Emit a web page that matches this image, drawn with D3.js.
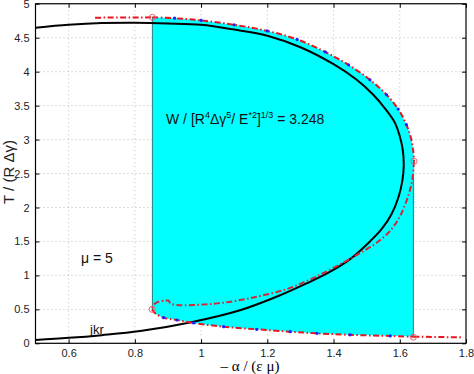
<!DOCTYPE html>
<html>
<head>
<meta charset="utf-8">
<script src="https://cdn.jsdelivr.net/npm/d3@7"></script>
<style>
  body { margin: 0; background: #fff; }
  svg text { font-family: "Liberation Sans", Arial, sans-serif; }
</style>
</head>
<body>
<div id="chart"></div>
<script>
// tick values
var xTicks = [0.6, 0.8, 1, 1.2, 1.4, 1.6, 1.8];
var yTicks = [0, 0.5, 1, 1.5, 2, 2.5, 3, 3.5, 4, 4.5, 5];

// jkr curve (black), traced from top-left round to bottom-left
var jkrX = [0.5, 0.6, 0.7, 0.8, 0.9, 1.0, 1.1, 1.2, 1.3, 1.4, 1.47, 1.52, 1.555, 1.585, 1.6, 1.609, 1.612, 1.608, 1.596, 1.575, 1.545, 1.51, 1.45, 1.39, 1.32, 1.24, 1.12, 0.97, 0.816, 0.7, 0.6, 0.5];
var jkrY = [4.648, 4.69, 4.715, 4.72, 4.71, 4.69, 4.62, 4.53, 4.36, 4.11, 3.88, 3.66, 3.46, 3.25, 3.05, 2.85, 2.62, 2.40, 2.15, 1.90, 1.68, 1.50, 1.24, 1.055, 0.885, 0.71, 0.49, 0.31, 0.18, 0.12, 0.08, 0.05];

// upper (stable) branch of the red curve
var topX = [0.853, 0.92, 1.0, 1.1, 1.2, 1.29, 1.375, 1.445, 1.51, 1.56, 1.595, 1.62, 1.635, 1.641, 1.643];
var topY = [4.80, 4.787, 4.755, 4.69, 4.60, 4.475, 4.29, 4.10, 3.88, 3.66, 3.45, 3.22, 3.0, 2.82, 2.68];

// middle (unstable) branch and swallowtail loop
var midX = [1.643, 1.639, 1.631, 1.616, 1.595, 1.568, 1.53, 1.48, 1.43, 1.37, 1.32, 1.26, 1.168, 1.068, 0.977, 0.927, 0.907, 0.902, 0.892, 0.872, 0.856, 0.852];
var midY = [2.68, 2.45, 2.26, 2.04, 1.82, 1.64, 1.48, 1.33, 1.19, 1.035, 0.92, 0.80, 0.686, 0.598, 0.564, 0.564, 0.589, 0.627, 0.627, 0.613, 0.564, 0.50];

// lower (stable) branch
var lowX = [0.852, 0.862, 0.887, 0.927, 0.977, 1.068, 1.168, 1.269, 1.35, 1.45, 1.571, 1.641];
var lowY = [0.50, 0.44, 0.377, 0.343, 0.30, 0.245, 0.206, 0.171, 0.147, 0.125, 0.108, 0.097];

// jumps outside the shaded cycle
var leftExtX = [0.68, 0.853];
var leftExtY = [4.795, 4.80];
var rightExtX = [1.641, 1.79];
var rightExtY = [0.097, 0.088];

// turning points (open circles)
var turnX = [0.853, 1.643, 1.641, 0.852];
var turnY = [4.80, 2.68, 0.09, 0.50];

var width = 474, height = 374;
var xScale = d3.scaleLinear().domain([0.5, 1.8]).range([35.5, 466]);
var yScale = d3.scaleLinear().domain([0, 5]).range([343.3, 3.75]);

var svg = d3.select("#chart").append("svg")
  .attr("width", width).attr("height", height);

function pts(xs, ys) {
  return xs.map(function(d, i) { return [d, ys[i]]; });
}

var line = d3.line()
  .x(function(d) { return xScale(d[0]); })
  .y(function(d) { return yScale(d[1]); });
var smooth = d3.line()
  .x(function(d) { return xScale(d[0]); })
  .y(function(d) { return yScale(d[1]); })
  .curve(d3.curveCatmullRom.alpha(0.5));

// grid
var x0 = xScale.range()[0], x1 = xScale.range()[1];
var y0 = yScale.range()[0], y1 = yScale.range()[1];
svg.append("g").selectAll("line").data(xTicks.slice(0, -1)).enter().append("line")
  .attr("x1", function(d) { return xScale(d); }).attr("x2", function(d) { return xScale(d); })
  .attr("y1", y0).attr("y2", y1)
  .attr("stroke", "#aaa").attr("stroke-width", 0.8).attr("stroke-dasharray", "1,3");
svg.append("g").selectAll("line").data(yTicks.slice(1, -1)).enter().append("line")
  .attr("y1", function(d) { return yScale(d); }).attr("y2", function(d) { return yScale(d); })
  .attr("x1", x0).attr("x2", x1)
  .attr("stroke", "#aaa").attr("stroke-width", 0.8).attr("stroke-dasharray", "1,3");

// shaded cycle: upper branch, drop at right, lower branch back
var fillPts = pts(topX, topY)
  .concat([[rightExtX[0], rightExtY[0]]])
  .concat(pts(lowX, lowY).reverse());
svg.append("path")
  .attr("d", smooth(fillPts) + "Z")
  .attr("fill", "#00ffff").attr("stroke", "none");

// vertical edges of the shaded area
svg.append("line")
  .attr("x1", xScale(topX[0])).attr("x2", xScale(topX[0]))
  .attr("y1", yScale(topY[0])).attr("y2", yScale(lowY[0]))
  .attr("stroke", "#2a8080").attr("stroke-width", 1);
svg.append("line")
  .attr("x1", xScale(rightExtX[0])).attr("x2", xScale(rightExtX[0]))
  .attr("y1", yScale(2.45)).attr("y2", yScale(rightExtY[0]))
  .attr("stroke", "#2a8080").attr("stroke-width", 1);

// jkr curve
svg.append("path")
  .attr("d", smooth(pts(jkrX, jkrY)))
  .attr("fill", "none").attr("stroke", "#000").attr("stroke-width", 2);

// red dash-dot curve
var redStyle = function(p) {
  return p.attr("fill", "none").attr("stroke", "#e8141e").attr("stroke-width", 2)
    .attr("stroke-dasharray", "6,2.5,1.5,2.5");
};
redStyle(svg.append("path").attr("d", line(pts(leftExtX, leftExtY))));
redStyle(svg.append("path").attr("d", smooth(pts(topX, topY))));
redStyle(svg.append("path").attr("d", smooth(pts(midX, midY)))).attr("stroke", "#d02838");
redStyle(svg.append("path").attr("d", smooth(pts(lowX, lowY))));
redStyle(svg.append("path").attr("d", line(pts(rightExtX, rightExtY))));

// blue dots on stable branches
var dots = pts(topX, topY).slice(1, -3).concat(pts(lowX, lowY).slice(2, -1));
svg.append("g").selectAll("circle").data(dots).enter().append("circle")
  .attr("cx", function(d) { return xScale(d[0]); })
  .attr("cy", function(d) { return yScale(d[1]); })
  .attr("r", 1.6).attr("fill", "#2020ff");

// turning point circles
svg.append("g").selectAll("circle").data(pts(turnX, turnY)).enter().append("circle")
  .attr("cx", function(d) { return xScale(d[0]); })
  .attr("cy", function(d) { return yScale(d[1]); })
  .attr("r", 3).attr("fill", "none").attr("stroke", "#e86070").attr("stroke-width", 1);

// frame
svg.append("rect")
  .attr("x", x0).attr("y", y1).attr("width", x1 - x0).attr("height", y0 - y1)
  .attr("fill", "none").attr("stroke", "#000").attr("stroke-width", 1.2);

// axes with inward ticks
var xAxis = d3.axisBottom(xScale).tickValues(xTicks).tickSizeInner(-4).tickSizeOuter(0).tickPadding(5.5)
  .tickFormat(d3.format("~g"));
var yAxis = d3.axisLeft(yScale).tickValues(yTicks).tickSizeInner(-4).tickSizeOuter(0).tickPadding(6)
  .tickFormat(d3.format("~g"));
var gx = svg.append("g").attr("transform", "translate(0," + y0 + ")").call(xAxis);
var gy = svg.append("g").attr("transform", "translate(" + x0 + ",0)").call(yAxis);
svg.append("g").attr("transform", "translate(0," + y1 + ")")
  .call(d3.axisTop(xScale).tickValues(xTicks).tickSizeInner(-4).tickSizeOuter(0).tickFormat(""));
svg.append("g").attr("transform", "translate(" + x1 + ",0)")
  .call(d3.axisRight(yScale).tickValues(yTicks).tickSizeInner(-4).tickSizeOuter(0).tickFormat(""));
svg.selectAll(".domain").remove();
svg.selectAll(".tick line").attr("stroke", "#000");
[gx, gy].forEach(function(g) {
  g.selectAll("text").attr("font-size", 11).attr("fill", "#222")
    .style("font-family", "Liberation Sans, Arial, sans-serif");
});

// axis labels
svg.append("text")
  .attr("x", 250).attr("y", 371).attr("text-anchor", "middle")
  .attr("font-size", 15).style("font-family", "Liberation Serif, serif")
  .text("\u2013 \u03b1 / (\u03b5 \u03bc)");
svg.append("text")
  .attr("transform", "translate(14,172) rotate(-90)")
  .attr("text-anchor", "middle").attr("font-size", 15).attr("fill", "#222")
  .text("T / (R \u0394\u03b3)");

// annotations
var ann = svg.append("text").attr("x", 166).attr("y", 124).attr("font-size", 14).attr("fill", "#111");
ann.append("tspan").text("W / [R");
ann.append("tspan").attr("dy", -6).attr("font-size", 9).text("4");
ann.append("tspan").attr("dy", 6).text("\u0394\u03b3");
ann.append("tspan").attr("dy", -6).attr("font-size", 9).text("5");
ann.append("tspan").attr("dy", 6).text("/ E");
ann.append("tspan").attr("dy", -6).attr("font-size", 9).text("*2");
ann.append("tspan").attr("dy", 6).text("]");
ann.append("tspan").attr("dy", -6).attr("font-size", 9).text("1/3");
ann.append("tspan").attr("dy", 6).text(" = 3.248");

svg.append("text").attr("x", 81).attr("y", 263).attr("font-size", 14).attr("fill", "#111")
  .text("\u03bc = 5");
svg.append("text").attr("x", 90).attr("y", 334).attr("font-size", 13).attr("fill", "#111")
  .text("jkr");
</script>
</body>
</html>
